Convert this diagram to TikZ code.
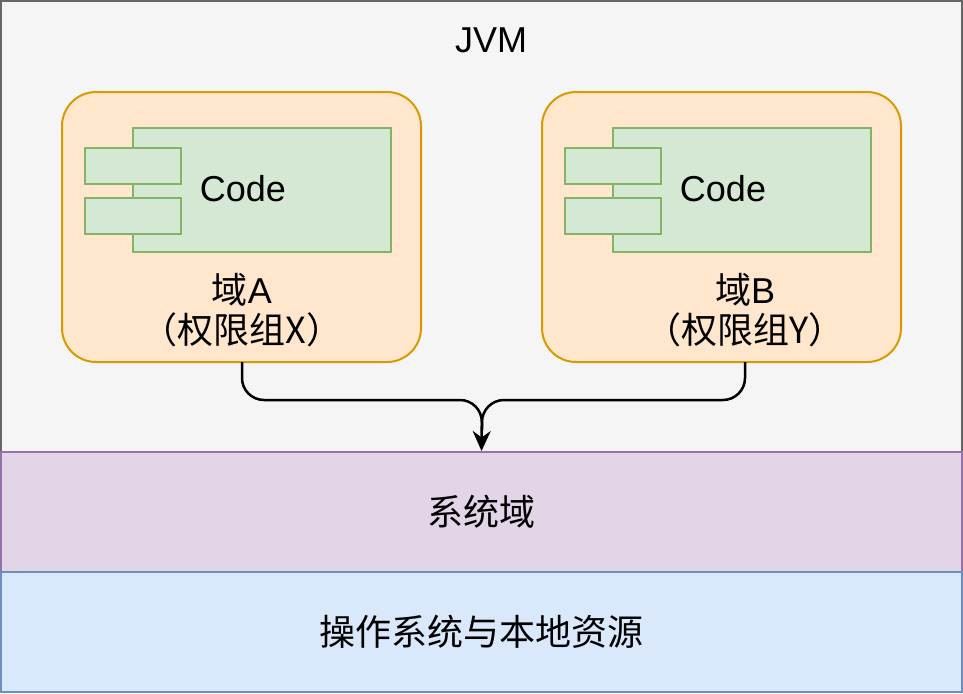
\documentclass[tikz,border=0pt]{standalone}
\usepackage{fontspec}
\setmainfont{Liberation Sans}
\newfontfamily\cjk{Noto Sans CJK SC}
\usetikzlibrary{arrows.meta}
\definecolor{jvmf}{HTML}{F5F5F5}\definecolor{jvmd}{HTML}{666666}
\definecolor{sysf}{HTML}{E1D5E7}\definecolor{sysd}{HTML}{9673A6}
\definecolor{osf}{HTML}{DAE8FC}\definecolor{osd}{HTML}{6C8EBF}
\definecolor{domf}{HTML}{FFE6CC}\definecolor{domd}{HTML}{D79B00}
\definecolor{cf}{HTML}{D5E8D4}\definecolor{cd}{HTML}{82B366}
\begin{document}
\begin{tikzpicture}[x=1pt,y=-1pt,line width=2pt,
  txt/.style={font=\fontsize{36}{40}\selectfont},
  band/.style={draw,minimum width=961pt,minimum height=120pt,inner sep=0pt,txt},
  dom/.style={draw=domd,fill=domf,rounded corners=34pt},
  comp/.style={draw=cd,fill=cf}]
\useasboundingbox (0,0) rectangle (963,693);
\draw[draw=jvmd,fill=jvmf] (1,1) rectangle (962,452);
\node[txt] (jvm) at (491,40) {JVM};
\node[band,draw=sysd,fill=sysf] (sys) at (481.5,512) {\cjk 系统域};
\node[band,draw=osd,fill=osf] (os) at (481.5,632) {\cjk 操作系统与本地资源};
% domain A
\draw[dom] (62,92) rectangle (421,362);
\draw[comp] (133,128) rectangle (391,252);
\draw[comp] (85,148) rectangle (181,184);
\draw[comp] (85,198) rectangle (181,234);
\node[txt] (codeA) at (243,189) {Code};
\node[txt,align=center] (A) at (242,310) {{\cjk 域}A\\{\cjk （权限组X）}};
% domain B
\draw[dom] (542,92) rectangle (901,362);
\draw[comp] (613,128) rectangle (871,252);
\draw[comp] (565,148) rectangle (661,184);
\draw[comp] (565,198) rectangle (661,234);
\node[txt] (codeB) at (723,189) {Code};
\node[txt,align=center] (B) at (745,310) {{\cjk 域}B\\{\cjk （权限组Y）}};
\coordinate (aS) at (242,362);
\coordinate (bS) at (745,362);
\draw[-{Stealth[length=20pt,width=18pt]},rounded corners=22pt,line width=2.5pt]
  (aS) -- (242,400) -- (482,400) -- (sys.north);
\draw[rounded corners=22pt,line width=2.5pt]
  (bS) -- (745,400) -- (482,400) -- (482,430);
\end{tikzpicture}
\end{document}
